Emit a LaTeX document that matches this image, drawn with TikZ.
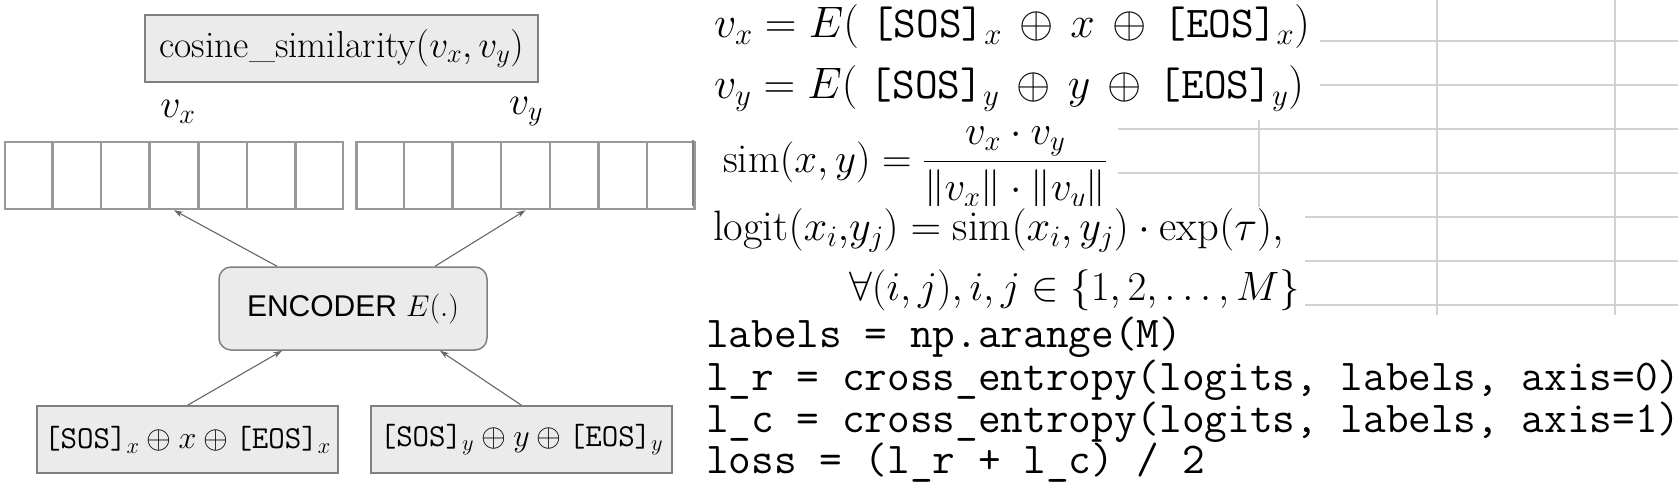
\RequirePackage{fix-cm}
\documentclass[tikz,border=0pt]{standalone}
\usepackage{amsmath}
\usepackage{fontspec}
\newfontfamily\encoderfont{Liberation Sans}
\usepackage{tikz}
\usetikzlibrary{arrows.meta}
\usetikzlibrary{positioning}
\usetikzlibrary{calc}
\definecolor{BoxFill}{gray}{0.92}
\definecolor{BoxLine}{gray}{0.5}
\definecolor{CellLine}{gray}{0.6}
\definecolor{SheetLine}{gray}{0.82}
\definecolor{ArrowColor}{gray}{0.4}
\tikzstyle{arrow} = [line width=1.1pt, ArrowColor, -{Stealth[length=9pt,width=6pt]}]
\tikzstyle{graybox} = [draw=BoxLine, fill=BoxFill, line width=1.5pt, inner sep=0pt]
\tikzstyle{vecbox} = [draw=CellLine, fill=white, line width=2.5pt, minimum width=338pt, minimum height=67pt, inner sep=0pt]
\tikzstyle{sheetline} = [SheetLine, line width=1.6pt]
\tikzstyle{eqn} = [anchor=base west, inner sep=0pt]
\tikzstyle{code} = [anchor=base west, inner sep=0pt, font=\ttfamily\fontsize{44}{48}\selectfont]
\newcommand{\tok}[1]{\texttt{#1}}
\newcommand{\cat}{\,\oplus\,}

\begin{document}
\begin{tikzpicture}[x=1pt, y=-1pt]
\useasboundingbox (0,0) rectangle (1678,484);
% spreadsheet grid behind the formulas
\foreach \y/\xa in {41/1320, 85/1320, 129/1118, 173/1118, 217/1305, 261/1305, 305/1305}
    \draw[sheetline] (\xa,\y) -- (1678,\y);
\foreach \x/\ya/\yb in {1437/0/315, 1615/0/315, 1259/120/207}
    \draw[sheetline] (\x,\ya) -- (\x,\yb);

% model
\node[graybox, minimum width=393pt, minimum height=67pt, font=\fontsize{37.5}{42}\selectfont] (cos) at (341.5,48.5) {cosine\_similarity$(v_x, v_y)$};
\node[font=\fontsize{40}{44}\selectfont] (lx) at (178,112) {$v_x$};
\node[font=\fontsize{40}{44}\selectfont] (ly) at (526,112) {$v_y$};
\node[vecbox] (vecx) at (174,175.5) {};
\node[vecbox] (vecy) at (525.5,175.5) {};
\foreach \v in {vecx, vecy}
    \foreach \i in {1,...,6}
        \draw[CellLine, line width=2.5pt] ($(\v.north west)!\i/7!(\v.north east)$) -- ($(\v.south west)!\i/7!(\v.south east)$);
\node[graybox, rounded corners=12pt, minimum width=268pt, minimum height=83pt, font=\fontsize{30}{34}\selectfont] (enc) at (353,308.5) {{\encoderfont ENCODER} $E(.)$};
\node[graybox, minimum width=301pt, minimum height=67pt, font=\fontsize{32}{36}\selectfont] (inx) at (187.5,439.5) {$\texttt{[SOS]}_x \oplus x \oplus \texttt{[EOS]}_x$};
\node[graybox, minimum width=301pt, minimum height=67pt, font=\fontsize{32}{36}\selectfont] (iny) at (521.5,439.5) {$\texttt{[SOS]}_y \oplus y \oplus \texttt{[EOS]}_y$};
\draw[arrow] ([xshift=-76pt]enc.north) -- (vecx.south);
\draw[arrow] ([xshift=82pt]enc.north) -- (vecy.south);
\draw[arrow] (inx.north) -- ([xshift=-71pt]enc.south);
\draw[arrow] (iny.north) -- ([xshift=87pt]enc.south);

% formulas
\node[eqn, font=\fontsize{44}{48}\selectfont] (eqx) at (714,38) {$v_x = E(\;\tok{[SOS]}_x \cat x \cat \tok{[EOS]}_x)$};
\node[eqn, font=\fontsize{44}{48}\selectfont] (eqy) at (714,99) {$v_y = E(\;\tok{[SOS]}_y \cat y \cat \tok{[EOS]}_y)$};
\begin{scope}
    \clip (693,118) rectangle (1118,205);
    \node[eqn, font=\fontsize{41}{44}\selectfont] (sim) at (723,172) {$\mathrm{sim}(x, y) = \dfrac{v_x \cdot v_y}{\|v_x\| \cdot \|v_y\|}$};
\end{scope}
\draw[BoxLine, line width=1.5pt] (693,140) -- (693,206);
\node[eqn, font=\fontsize{42.5}{46}\selectfont] (logit) at (713,240) {$\mathrm{logit}(x_i{,}y_j) = \mathrm{sim}(x_i, y_j) \cdot \exp(\tau),$};
\node[eqn, font=\fontsize{41}{46}\selectfont] (all) at (849,300) {$\forall (i,j), i,j \in \{1,2,\ldots,M\}$};

% code
\node[code] (c1) at (706,347) {labels = np.arange(M)};
\node[code] (c2) at (706,390) {l\_r = cross\_entropy(logits, labels, axis=0)};
\node[code] (c3) at (706,432) {l\_c = cross\_entropy(logits, labels, axis=1)};
\node[code] (c4) at (706,473) {loss = (l\_r + l\_c) / 2};
\end{tikzpicture}
\end{document}
